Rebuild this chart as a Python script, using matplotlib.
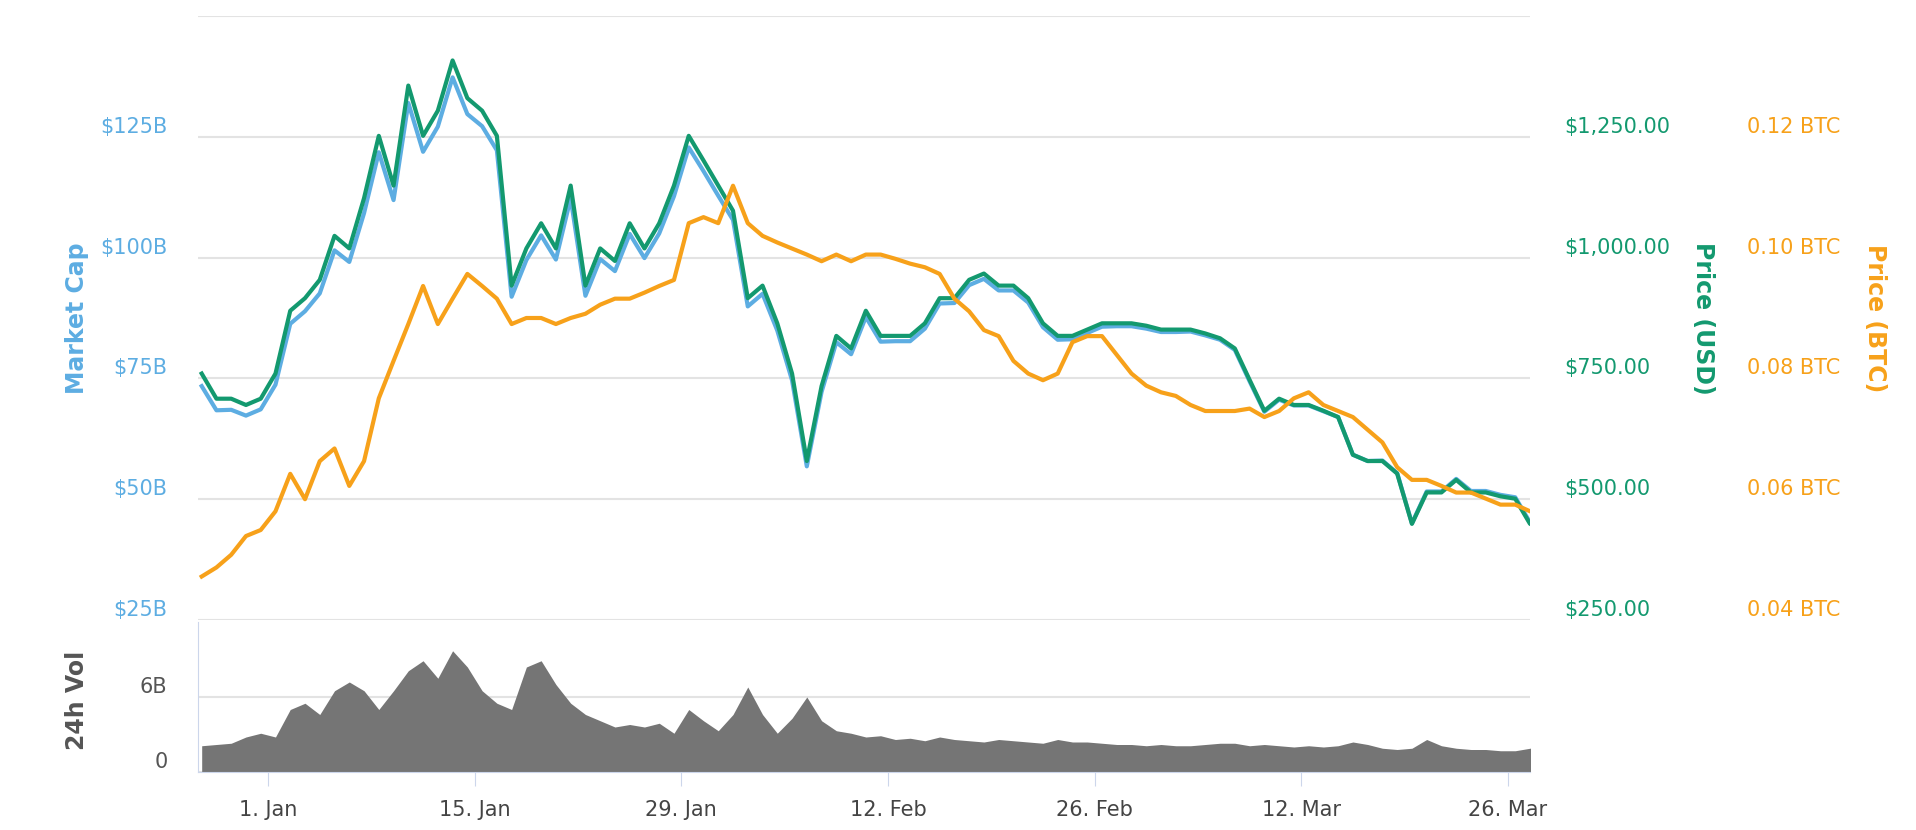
import matplotlib.pyplot as plt
import pandas as pd

# daily samples, Dec 27 2017 12:00 onwards
dates = pd.date_range('2017-12-27 12:00', periods=92, freq='D')

price_usd = [760, 708, 708, 695, 708, 760, 890, 916, 954, 1045,
             1019, 1123, 1252, 1149, 1356, 1252, 1304, 1408, 1330, 1304,
             1252, 942, 1019, 1071, 1019, 1149, 942, 1019, 993, 1071,
             1019, 1071, 1149, 1252, 1201, 1149, 1097, 916, 942, 864,
             760, 579, 734, 838, 812, 890, 838, 838, 838, 864,
             916, 916, 954, 967, 942, 942, 916, 864, 838, 838,
             851, 864, 864, 864, 859, 851, 851, 851, 843, 833,
             812, 747, 683, 708, 695, 695, 683, 670, 592, 579,
             579, 553, 449, 514, 514, 540, 514, 514, 506, 501,
             449, 436]

market_cap = [73.4, 68.4, 68.5, 67.3, 68.6, 73.7, 86.3, 88.9, 92.6, 101.5,
              99.1, 109.2, 121.8, 111.9, 132.0, 121.9, 127.1, 137.3, 129.7, 127.2,
              122.2, 91.9, 99.5, 104.6, 99.6, 112.3, 92.1, 99.7, 97.2, 104.9,
              99.9, 105.0, 112.7, 122.8, 117.9, 112.8, 107.8, 89.9, 92.5, 84.9,
              74.6, 56.8, 72.2, 82.5, 80.0, 87.7, 82.6, 82.7, 82.7, 85.3,
              90.5, 90.6, 94.3, 95.6, 93.2, 93.2, 90.7, 85.6, 83.0, 83.1,
              84.4, 85.7, 85.8, 85.8, 85.3, 84.6, 84.6, 84.7, 83.9, 83.0,
              80.9, 74.4, 68.1, 70.6, 69.4, 69.4, 68.2, 67.0, 59.2, 57.9,
              58.0, 55.4, 45.0, 51.6, 51.6, 54.2, 51.7, 51.7, 50.9, 50.4,
              45.2, 43.9]

price_btc = [0.0472, 0.0487, 0.0508, 0.0539, 0.0549, 0.0580, 0.0642, 0.0600, 0.0663, 0.0684,
             0.0622, 0.0663, 0.0767, 0.0829, 0.0890, 0.0953, 0.0890, 0.0932, 0.0973, 0.0953,
             0.0932, 0.0890, 0.0900, 0.0900, 0.0890, 0.0900, 0.0907, 0.0922, 0.0932, 0.0932,
             0.0942, 0.0953, 0.0963, 0.1057, 0.1067, 0.1057, 0.1119, 0.1057, 0.1036, 0.1025,
             0.1015, 0.1005, 0.0994, 0.1005, 0.0994, 0.1005, 0.1005, 0.0998, 0.0990, 0.0984,
             0.0973, 0.0932, 0.0911, 0.0880, 0.0870, 0.0829, 0.0808, 0.0797, 0.0808, 0.0860,
             0.0870, 0.0870, 0.0839, 0.0808, 0.0788, 0.0777, 0.0771, 0.0756, 0.0746, 0.0746,
             0.0746, 0.0750, 0.0736, 0.0746, 0.0767, 0.0777, 0.0756, 0.0746, 0.0736, 0.0715,
             0.0694, 0.0653, 0.0632, 0.0632, 0.0622, 0.0611, 0.0611, 0.0601, 0.0591, 0.0591,
             0.0580, 0.0570]

volume_b = [2.1, 2.2, 2.3, 2.8, 3.1, 2.8, 5.0, 5.5, 4.6, 6.5,
            7.2, 6.5, 5.0, 6.5, 8.1, 8.9, 7.5, 9.7, 8.4, 6.5,
            5.5, 5.0, 8.4, 8.9, 7.0, 5.5, 4.6, 4.1, 3.6, 3.8,
            3.6, 3.9, 3.1, 5.0, 4.1, 3.3, 4.6, 6.8, 4.6, 3.1,
            4.3, 6.0, 4.1, 3.3, 3.1, 2.8, 2.9, 2.6, 2.7, 2.5,
            2.8, 2.6, 2.5, 2.4, 2.6, 2.5, 2.4, 2.3, 2.6, 2.4,
            2.4, 2.3, 2.2, 2.2, 2.1, 2.2, 2.1, 2.1, 2.2, 2.3,
            2.3, 2.1, 2.2, 2.1, 2.0, 2.1, 2.0, 2.1, 2.4, 2.2,
            1.9, 1.8, 1.9, 2.6, 2.1, 1.9, 1.8, 1.8, 1.7, 1.7,
            1.9, 2.1]

tick_dates = ['2018-01-01', '2018-01-15', '2018-01-29', '2018-02-12',
              '2018-02-26', '2018-03-12', '2018-03-26']
tick_labels = ['1. Jan', '15. Jan', '29. Jan', '12. Feb', '26. Feb', '12. Mar', '26. Mar']

BLUE = '#5dade2'
GREEN = '#13996f'
ORANGE = '#f7a11a'
GRID = '#e3e3e3'
W, H = 1916, 830

plt.rc('font', family='DejaVu Sans', size=15)
fig = plt.figure(figsize=(W / 100, H / 100), dpi=100)

left, right = 198 / W, 1530 / W
ax = fig.add_axes([left, 1 - 620 / H, right - left, (620 - 16) / H])
axv = fig.add_axes([left, 1 - 772 / H, right - left, (772 - 622) / H])

xlim = (pd.Timestamp('2017-12-27 06:00'), pd.Timestamp('2018-03-27 12:00'))

# main panel: market cap on left
ax.set_ylim(25, 150)
ax.set_yticks([25, 50, 75, 100, 125, 150])
ax.set_yticklabels(['$25B', '$50B', '$75B', '$100B', '$125B', ''], color=BLUE)
ax.yaxis.grid(True, color=GRID, lw=1.5)
ax.set_axisbelow(True)
ax.plot(dates, market_cap, color=BLUE, lw=3)

ax_usd = ax.twinx()
ax_usd.set_ylim(250, 1500)
ax_usd.set_yticks([250, 500, 750, 1000, 1250])
ax_usd.set_yticklabels(['$250.00', '$500.00', '$750.00', '$1,000.00', '$1,250.00'], color=GREEN)
ax_usd.plot(dates, price_usd, color=GREEN, lw=3)

ax_btc = ax.twinx()
ax_btc.set_ylim(0.04, 0.14)
ax_btc.set_yticks([0.04, 0.06, 0.08, 0.10, 0.12])
ax_btc.set_yticklabels(['0.04 BTC', '0.06 BTC', '0.08 BTC', '0.10 BTC', '0.12 BTC'], color=ORANGE)
ax_btc.plot(dates, price_btc, color=ORANGE, lw=3)

for a, pad in [(ax, 22), (ax_usd, 25), (ax_btc, 156)]:
    a.set_xlim(*xlim)
    a.tick_params(axis='y', length=0, pad=pad, labelsize=15)
    a.tick_params(axis='x', bottom=False, labelbottom=False)
    for s in a.spines.values():
        s.set_visible(False)
    for lab in a.get_yticklabels():
        lab.set_va('bottom')

# volume panel
axv.set_xlim(*xlim)
axv.set_ylim(0, 12)
axv.fill_between(dates, volume_b, 0, color='#757575', lw=0)
axv.set_yticks([0, 6])
axv.set_yticklabels(['0', '6B'], color='#555555')
axv.tick_params(axis='y', length=0, pad=22, labelsize=15)
for lab in axv.get_yticklabels():
    lab.set_va('bottom')
axv.yaxis.grid(True, color=GRID, lw=1.5)
axv.set_axisbelow(True)
axv.set_xticks(pd.to_datetime(tick_dates))
axv.set_xticklabels(tick_labels, color='#444444')
axv.tick_params(axis='x', length=10, color='#ccd6eb', pad=10, labelsize=15)
for s in ['top', 'right']:
    axv.spines[s].set_visible(False)
axv.spines['left'].set_color('#ccd6eb')
axv.spines['bottom'].set_color('#ccd6eb')

fig.text(77 / W, 1 - 318 / H, 'Market Cap', rotation=90, color=BLUE,
         fontsize=17, fontweight='bold', ha='center', va='center')
fig.text(1703 / W, 1 - 318 / H, 'Price (USD)', rotation=270, color=GREEN,
         fontsize=17, fontweight='bold', ha='center', va='center')
fig.text(1875 / W, 1 - 318 / H, 'Price (BTC)', rotation=270, color=ORANGE,
         fontsize=17, fontweight='bold', ha='center', va='center')
fig.text(77 / W, 1 - 700 / H, '24h Vol', rotation=90, color='#555555',
         fontsize=17, fontweight='bold', ha='center', va='center')

fig.savefig('out.png', dpi=100)
